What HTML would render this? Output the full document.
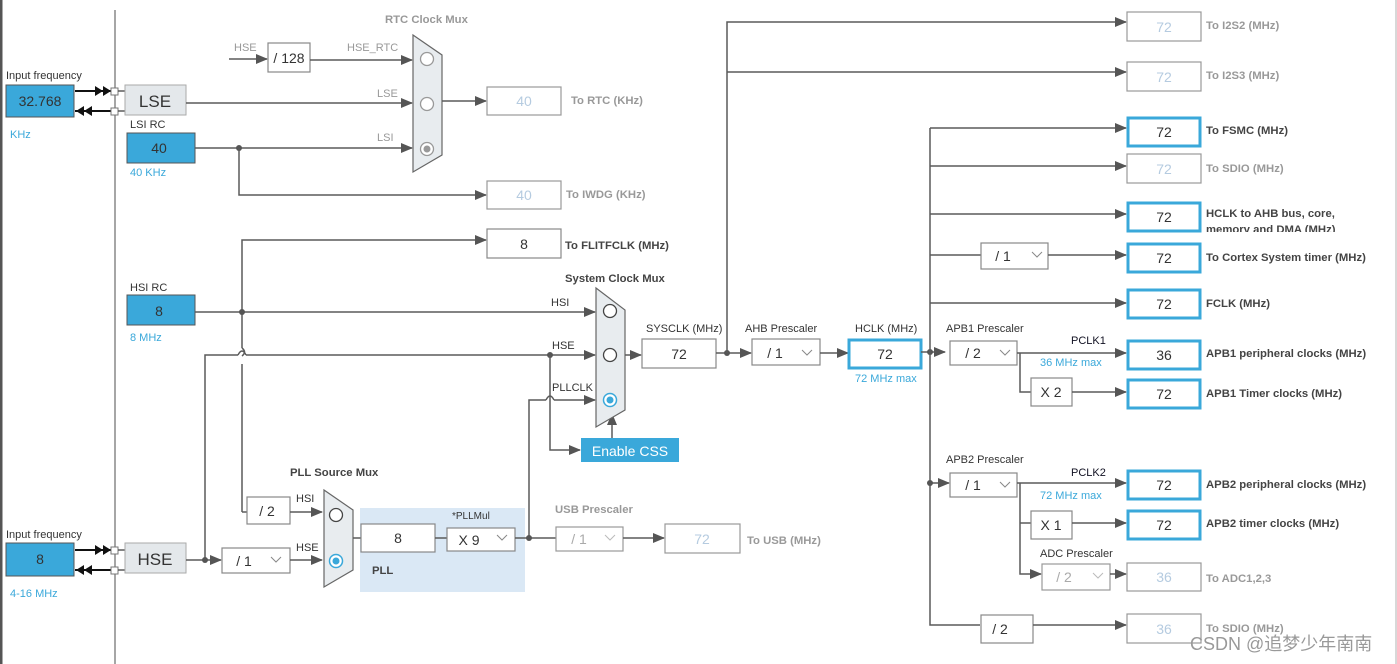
<!DOCTYPE html>
<html><head><meta charset="utf-8"><style>
html,body{margin:0;padding:0;background:#fff;}
svg{display:block;font-family:"Liberation Sans",Arial,sans-serif;}
.l{stroke:#5a5a5a;stroke-width:1.5;fill:none;}
.a{stroke:#5a5a5a;stroke-width:1.5;fill:none;marker-end:url(#ar);}
.bx{fill:#fff;stroke:#888;stroke-width:1.2;}
.gb{fill:#fff;stroke:#999;stroke-width:1.2;}
.ob{fill:#fff;stroke:#3aa8da;stroke-width:3;}
.blue{fill:#3aa8da;stroke:#555;stroke-width:1;}
.t{font-size:11px;fill:#333;}
.tg{font-size:11px;fill:#999;}
.tb{font-size:11.3px;fill:#444;font-weight:bold;}
.tbg{font-size:11.3px;fill:#999;font-weight:bold;}
.v{font-size:14px;fill:#333;text-anchor:middle;}
.vg{font-size:14px;fill:#b5cbe0;text-anchor:middle;}
.bl{font-size:11px;fill:#3aa8da;}
.mux{fill:#e8ecef;stroke:#666;stroke-width:1.2;}
.dot{fill:#555;}
</style></head><body>
<svg width="1397" height="664" viewBox="0 0 1397 664" xmlns="http://www.w3.org/2000/svg">
<defs>
<marker id="ar" markerWidth="12" markerHeight="10" refX="11" refY="5" orient="auto" markerUnits="userSpaceOnUse"><path d="M0,0 L12,5 L0,10 z" fill="#555"/></marker>
</defs>
<rect x="0" y="0" width="2.5" height="664" fill="#555"/>
<line x1="1396" y1="0" x2="1396" y2="664" stroke="#ccc" stroke-width="1.5"/>
<line x1="115" y1="10" x2="115" y2="664" stroke="#888" stroke-width="1.5"/>

<text x="6" y="79" class="t">Input frequency</text>
<rect x="6" y="85" width="68" height="32" class="blue"/>
<text x="40" y="106" class="v">32.768</text>
<text x="10" y="138" class="bl">KHz</text>
<line x1="75" y1="91" x2="112" y2="91" stroke="#111" stroke-width="2"/>
<path d="M95,86 L103,91 L95,96z M103,86 L111,91 L103,96z" fill="#111"/>
<line x1="75" y1="111" x2="112" y2="111" stroke="#111" stroke-width="2"/>
<path d="M84,106 L76,111 L84,116z M92,106 L84,111 L92,116z" fill="#111"/>
<rect x="111" y="88" width="7" height="7" fill="#fff" stroke="#777"/>
<rect x="111" y="108" width="7" height="7" fill="#fff" stroke="#777"/>
<line x1="118" y1="91" x2="125" y2="91" class="l"/><line x1="118" y1="111" x2="125" y2="111" class="l"/>
<rect x="125" y="85" width="61" height="30" fill="#e4e8eb" stroke="#aaa"/>
<text x="155" y="107" class="v" style="font-size:17px">LSE</text>

<text x="130" y="128" class="t">LSI RC</text>
<rect x="127" y="133" width="68" height="30" class="blue"/>
<text x="159" y="153" class="v">40</text>
<text x="130" y="176" class="bl">40 KHz</text>

<text x="385" y="23" class="tbg">RTC Clock Mux</text>
<text x="234" y="51" class="tg">HSE</text>
<line x1="229" y1="59" x2="267" y2="59" class="a"/>
<rect x="268" y="43" width="42" height="29" class="bx"/>
<text x="289" y="63" class="v">/ 128</text>
<text x="347" y="51" class="tg">HSE_RTC</text>
<line x1="310" y1="60" x2="412" y2="60" class="a"/>
<text x="377" y="97" class="tg">LSE</text>
<line x1="186" y1="103" x2="412" y2="103" class="a"/>
<text x="377" y="141" class="tg">LSI</text>
<line x1="195" y1="148" x2="412" y2="148" class="a"/>
<circle cx="239" cy="148" r="3" class="dot"/>
<polyline points="239,148 239,195 486,195" class="a"/>
<polygon points="413,35 442,55 442,155 413,172" class="mux"/>
<circle cx="427" cy="59" r="6.5" fill="#fff" stroke="#999" stroke-width="1.3"/>
<circle cx="427" cy="104" r="6.5" fill="#fff" stroke="#999" stroke-width="1.3"/>
<circle cx="427" cy="149" r="6.5" fill="#fff" stroke="#999" stroke-width="1.3"/>
<circle cx="427" cy="149" r="3.5" fill="#999"/>
<line x1="442" y1="101" x2="486" y2="101" class="a"/>
<rect x="487" y="87" width="74" height="28" class="gb"/><text x="524" y="106" class="vg">40</text>
<text x="571" y="104" class="tbg">To RTC (KHz)</text>
<rect x="487" y="181" width="74" height="28" class="gb"/><text x="524" y="200" class="vg">40</text>
<text x="566" y="198" class="tbg">To IWDG (KHz)</text>

<polyline points="242,512 242,364" class="l"/>
<path d="M242,348 Q247,352 242,356" class="l"/>
<polyline points="242,348 242,240 486,240" class="a"/>
<rect x="487" y="229" width="74" height="29" class="bx"/><text x="524" y="249" class="v">8</text>
<text x="565" y="249" class="tb">To FLITFCLK (MHz)</text>

<text x="130" y="291" class="t">HSI RC</text>
<rect x="127" y="295" width="68" height="30" class="blue"/>
<text x="159" y="316" class="v">8</text>
<text x="130" y="341" class="bl">8 MHz</text>
<line x1="195" y1="312" x2="595" y2="312" class="a"/>
<circle cx="242" cy="312" r="3" class="dot"/>
<text x="551" y="306" class="t">HSI</text>

<polyline points="205,560 205,355 238,355" class="l"/>
<path d="M238,355 Q242,347 246,355" class="l"/>
<line x1="246" y1="355" x2="595" y2="355" class="a"/>
<circle cx="550" cy="355" r="3" class="dot"/>
<text x="552" y="349" class="t">HSE</text>
<polyline points="550,355 550,450 580,450" class="a"/>
<rect x="581" y="438" width="98" height="24" fill="#3aa8da"/>
<text x="630" y="456" style="font-size:14px;fill:#fff;text-anchor:middle">Enable CSS</text>
<line x1="612" y1="438" x2="612" y2="414" class="a"/>

<polyline points="529,540 529,400 546,400" class="l"/>
<path d="M546,400 Q550,392 554,400" class="l"/>
<line x1="554" y1="400" x2="595" y2="400" class="a"/>
<text x="552" y="391" class="t">PLLCLK</text>

<text x="565" y="282" class="tb">System Clock Mux</text>
<polygon points="596,288 625,310 625,410 596,427" class="mux"/>
<circle cx="610" cy="311" r="6.5" fill="#fff" stroke="#444" stroke-width="1.3"/>
<circle cx="610" cy="355" r="6.5" fill="#fff" stroke="#444" stroke-width="1.3"/>
<circle cx="610" cy="400" r="6.5" fill="#fff" stroke="#3aa8da" stroke-width="1.5"/>
<circle cx="610" cy="400" r="3.5" fill="#3aa8da"/>
<line x1="625" y1="355" x2="641" y2="355" class="a"/>
<text x="646" y="332" class="t">SYSCLK (MHz)</text>
<rect x="642" y="339" width="74" height="29" class="bx"/><text x="679" y="359" class="v">72</text>
<line x1="716" y1="353" x2="751" y2="353" class="a"/>
<circle cx="727" cy="353" r="3" class="dot"/>
<polyline points="727,353 727,22 1126,22" class="a"/>
<line x1="727" y1="72" x2="1126" y2="72" class="a"/>
<text x="745" y="332" class="t">AHB Prescaler</text>
<rect x="752" y="339" width="68" height="26" class="bx"/><text x="775" y="358" class="v">/ 1</text>
<path d="M802,350 L807,355 L812,350" stroke="#888" fill="none"/>
<line x1="820" y1="353" x2="848" y2="353" class="a"/>
<text x="855" y="332" class="t">HCLK (MHz)</text>
<rect x="849" y="340" width="72" height="28" class="ob"/><text x="885" y="359" class="v">72</text>
<text x="855" y="382" class="bl">72 MHz max</text>
<line x1="921" y1="352" x2="945" y2="352" class="a"/>
<circle cx="930" cy="352" r="3" class="dot"/>
<polyline points="930,128 930,625 980,625" class="l"/>
<line x1="930" y1="128" x2="1126" y2="128" class="a"/>
<line x1="930" y1="166" x2="1126" y2="166" class="a"/>
<line x1="930" y1="214" x2="1126" y2="214" class="a"/>
<line x1="930" y1="255" x2="981" y2="255" class="l"/>
<rect x="981" y="243" width="67" height="26" class="bx"/><text x="1003" y="261" class="v">/ 1</text>
<path d="M1032,252 L1037,257 L1042,252" stroke="#888" fill="none"/>
<line x1="1048" y1="255" x2="1126" y2="255" class="a"/>
<line x1="930" y1="303" x2="1126" y2="303" class="a"/>

<text x="946" y="332" class="t">APB1 Prescaler</text>
<rect x="950" y="341" width="67" height="24" class="bx"/><text x="973" y="358" class="v">/ 2</text>
<path d="M1000,350 L1005,355 L1010,350" stroke="#888" fill="none"/>
<line x1="1017" y1="353" x2="1126" y2="353" class="a"/>
<text x="1071" y="344" class="t" style="fill:#112">PCLK1</text>
<text x="1040" y="366" class="bl">36 MHz max</text>
<polyline points="1020,353 1020,392 1031,392" class="l"/>
<rect x="1031" y="378" width="41" height="28" class="bx"/><text x="1051" y="397" class="v">X 2</text>
<line x1="1072" y1="392" x2="1126" y2="392" class="a"/>

<text x="946" y="463" class="t">APB2 Prescaler</text>
<line x1="930" y1="483" x2="949" y2="483" class="a"/>
<circle cx="930" cy="483" r="3" class="dot"/>
<rect x="950" y="473" width="67" height="24" class="bx"/><text x="973" y="490" class="v">/ 1</text>
<path d="M1000,482 L1005,487 L1010,482" stroke="#888" fill="none"/>
<line x1="1017" y1="483" x2="1126" y2="483" class="a"/>
<text x="1071" y="476" class="t" style="fill:#112">PCLK2</text>
<text x="1040" y="499" class="bl">72 MHz max</text>
<polyline points="1020,483 1020,574 1041,574" class="a"/>
<line x1="1020" y1="523" x2="1031" y2="523" class="l"/>
<rect x="1031" y="511" width="41" height="28" class="bx"/><text x="1051" y="530" class="v">X 1</text>
<line x1="1072" y1="523" x2="1126" y2="523" class="a"/>
<text x="1040" y="557" class="t">ADC Prescaler</text>
<rect x="1042" y="564" width="68" height="26" class="gb"/><text x="1064" y="582" class="vg" style="fill:#aaa">/ 2</text>
<path d="M1093,573 L1098,578 L1103,573" stroke="#bbb" fill="none"/>
<line x1="1110" y1="574" x2="1126" y2="574" class="a"/>
<rect x="981" y="615" width="52" height="28" class="bx"/><text x="1000" y="634" class="v">/ 2</text>
<line x1="1033" y1="625" x2="1126" y2="625" class="a"/>

<rect x="1127" y="12" width="74" height="29" class="gb"/><text x="1164" y="32" class="vg">72</text><text x="1206" y="29" class="tbg">To I2S2 (MHz)</text>
<rect x="1127" y="62" width="74" height="29" class="gb"/><text x="1164" y="82" class="vg">72</text><text x="1206" y="79" class="tbg">To I2S3 (MHz)</text>
<rect x="1128" y="118" width="72" height="28" class="ob"/><text x="1164" y="137" class="v">72</text><text x="1206" y="134" class="tb">To FSMC (MHz)</text>
<rect x="1127" y="154" width="74" height="29" class="gb"/><text x="1164" y="174" class="vg">72</text><text x="1206" y="172" class="tbg">To SDIO (MHz)</text>
<rect x="1128" y="203" width="72" height="28" class="ob"/><text x="1164" y="222" class="v">72</text><text x="1206" y="217" class="tb">HCLK to AHB bus, core,</text>
<svg x="1204" y="222" width="190" height="10" overflow="hidden"><text x="2" y="11" class="tb">memory and DMA (MHz)</text></svg>
<rect x="1128" y="244" width="72" height="28" class="ob"/><text x="1164" y="263" class="v">72</text><text x="1206" y="261" class="tb">To Cortex System timer (MHz)</text>
<rect x="1128" y="290" width="72" height="28" class="ob"/><text x="1164" y="309" class="v">72</text><text x="1206" y="307" class="tb">FCLK (MHz)</text>
<rect x="1128" y="341" width="72" height="28" class="ob"/><text x="1164" y="360" class="v">36</text><text x="1206" y="357" class="tb">APB1 peripheral clocks (MHz)</text>
<rect x="1128" y="380" width="72" height="28" class="ob"/><text x="1164" y="399" class="v">72</text><text x="1206" y="397" class="tb">APB1 Timer clocks (MHz)</text>
<rect x="1128" y="471" width="72" height="28" class="ob"/><text x="1164" y="490" class="v">72</text><text x="1206" y="488" class="tb">APB2 peripheral clocks (MHz)</text>
<rect x="1128" y="511" width="72" height="28" class="ob"/><text x="1164" y="530" class="v">72</text><text x="1206" y="527" class="tb">APB2 timer clocks (MHz)</text>
<rect x="1127" y="563" width="74" height="28" class="gb"/><text x="1164" y="582" class="vg">36</text><text x="1206" y="582" class="tbg">To ADC1,2,3</text>
<rect x="1127" y="614" width="74" height="29" class="gb"/><text x="1164" y="634" class="vg">36</text><text x="1206" y="632" class="tbg">To SDIO (MHz)</text>

<text x="6" y="538" class="t">Input frequency</text>
<rect x="6" y="543" width="68" height="33" class="blue"/>
<text x="40" y="564" class="v">8</text>
<text x="10" y="597" class="bl">4-16 MHz</text>
<line x1="75" y1="550" x2="112" y2="550" stroke="#111" stroke-width="2"/>
<path d="M95,545 L103,550 L95,555z M103,545 L111,550 L103,555z" fill="#111"/>
<line x1="75" y1="570" x2="112" y2="570" stroke="#111" stroke-width="2"/>
<path d="M84,565 L76,570 L84,575z M92,565 L84,570 L92,575z" fill="#111"/>
<rect x="111" y="547" width="7" height="7" fill="#fff" stroke="#777"/>
<rect x="111" y="567" width="7" height="7" fill="#fff" stroke="#777"/>
<line x1="118" y1="550" x2="125" y2="550" class="l"/><line x1="118" y1="570" x2="125" y2="570" class="l"/>
<rect x="125" y="543" width="61" height="30" fill="#e4e8eb" stroke="#aaa"/>
<text x="155" y="565" class="v" style="font-size:17px">HSE</text>
<line x1="186" y1="560" x2="221" y2="560" class="a"/>
<circle cx="205" cy="560" r="3" class="dot"/>
<rect x="222" y="548" width="68" height="25" class="bx"/><text x="244" y="566" class="v">/ 1</text>
<path d="M271,557 L276,562 L281,557" stroke="#888" fill="none"/>
<line x1="290" y1="560" x2="322" y2="560" class="a"/>
<text x="296" y="551" class="t">HSE</text>
<polyline points="242,512 247,512" class="l"/>
<rect x="247" y="497" width="43" height="27" class="bx"/><text x="267" y="516" class="v">/ 2</text>
<line x1="290" y1="512" x2="322" y2="512" class="a"/>
<text x="296" y="502" class="t">HSI</text>
<text x="290" y="476" class="tb">PLL Source Mux</text>
<polygon points="324,490 353,510 353,570 324,587" class="mux"/>
<circle cx="336" cy="515" r="6.5" fill="#fff" stroke="#444" stroke-width="1.3"/>
<circle cx="336" cy="561" r="6.5" fill="#fff" stroke="#3aa8da" stroke-width="1.5"/>
<circle cx="336" cy="561" r="3.5" fill="#3aa8da"/>

<rect x="360" y="508" width="165" height="84" fill="#dae8f5"/>
<text x="452" y="519" class="t" style="font-size:10px">*PLLMul</text>
<line x1="353" y1="538" x2="361" y2="538" class="l"/>
<rect x="361" y="524" width="74" height="28" class="bx"/><text x="398" y="543" class="v">8</text>
<line x1="435" y1="538" x2="447" y2="538" class="l"/>
<rect x="447" y="528" width="68" height="23" class="bx"/><text x="469" y="545" class="v">X 9</text>
<path d="M497,535 L502,540 L507,535" stroke="#888" fill="none"/>
<text x="372" y="574" class="tb">PLL</text>
<line x1="515" y1="538" x2="556" y2="538" class="l"/>
<circle cx="529" cy="538" r="3" class="dot"/>
<text x="555" y="513" class="tbg">USB Prescaler</text>
<rect x="556" y="527" width="67" height="24" class="gb"/><text x="579" y="544" class="vg" style="fill:#aaa">/ 1</text>
<path d="M605,535 L610,540 L615,535" stroke="#bbb" fill="none"/>
<line x1="623" y1="538" x2="664" y2="538" class="a"/>
<rect x="665" y="524" width="75" height="29" class="gb"/><text x="702" y="544" class="vg">72</text>
<text x="747" y="544" class="tbg">To USB (MHz)</text>

<text x="1190" y="650" style="font-size:18px;fill:#999;font-family:'Liberation Sans','Noto Sans CJK SC',sans-serif">CSDN @追梦少年南南</text>
</svg>
</body></html>
